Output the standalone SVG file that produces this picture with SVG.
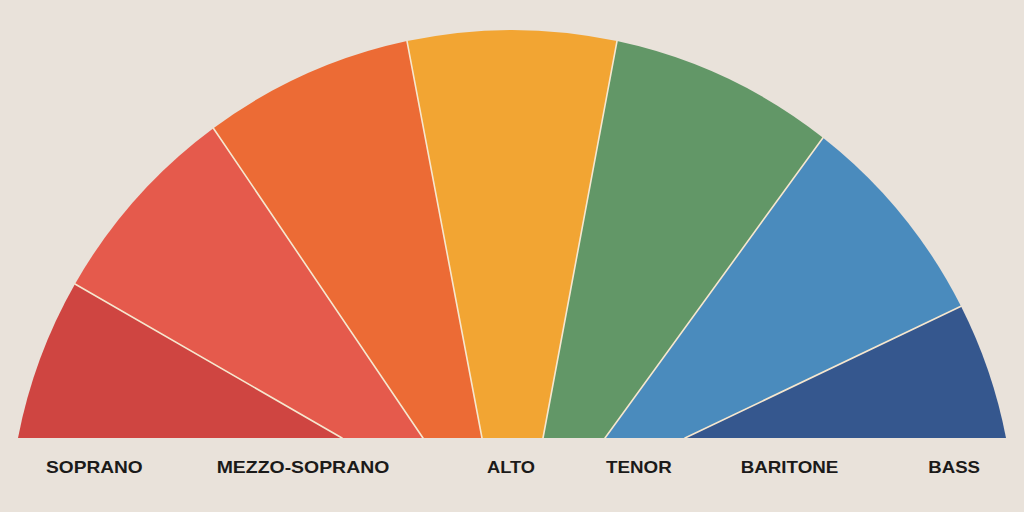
<svg xmlns="http://www.w3.org/2000/svg" width="1024" height="512" viewBox="0 0 1024 512">
  <style>
    .wedge { stroke: none; }
    .div { stroke: #f6e7cf; stroke-width: 1.6; fill: none; stroke-linecap: round; }
    .lbl { font-family: "Liberation Sans", Arial, sans-serif; font-weight: bold; font-size: 16.5px; fill: #1b1a19; }
  </style>
  <rect x="0" y="0" width="1024" height="512" fill="#e9e2da"/>
  <g id="soprano">
    <path class="wedge" fill="#cf4541" d="M18,438 A503,503 0 0 1 75,284 L342,438 Z"/>
    <text class="lbl" x="46" y="473" textLength="96.7" lengthAdjust="spacingAndGlyphs">SOPRANO</text>
  </g>
  <g id="mezzo-soprano">
    <path class="wedge" fill="#e55a4c" d="M342,438 L75,284 A503,503 0 0 1 213.4,128.2 L423,438 Z"/>
    <text class="lbl" x="216.7" y="473" textLength="172.6" lengthAdjust="spacingAndGlyphs">MEZZO-SOPRANO</text>
  </g>
  <g id="orange-band">
    <path class="wedge" fill="#ec6b35" d="M423,438 L213.4,128.2 A503,503 0 0 1 407,41.1 L482,438 Z"/>
  </g>
  <g id="alto">
    <path class="wedge" fill="#f2a533" d="M482,438 L407,41.1 A503,503 0 0 1 617,41.1 L543,438 Z"/>
    <text class="lbl" x="487" y="473" textLength="48" lengthAdjust="spacingAndGlyphs">ALTO</text>
  </g>
  <g id="tenor">
    <path class="wedge" fill="#629767" d="M543,438 L617,41.1 A503,503 0 0 1 823,137.7 L605,438 Z"/>
    <text class="lbl" x="606" y="473" textLength="65.7" lengthAdjust="spacingAndGlyphs">TENOR</text>
  </g>
  <g id="baritone">
    <path class="wedge" fill="#4a8bbd" d="M605,438 L823,137.7 A503,503 0 0 1 961,306.3 L685,438 Z"/>
    <text class="lbl" x="740.7" y="473" textLength="97.6" lengthAdjust="spacingAndGlyphs">BARITONE</text>
  </g>
  <g id="bass">
    <path class="wedge" fill="#35578e" d="M685,438 L961,306.3 A503,503 0 0 1 1006,438 Z"/>
    <text class="lbl" x="928.3" y="473" textLength="51.7" lengthAdjust="spacingAndGlyphs">BASS</text>
  </g>
  <g id="dividers">
    <line class="div" x1="75" y1="284" x2="342" y2="438"/>
    <line class="div" x1="213.4" y1="128.2" x2="423" y2="438"/>
    <line class="div" x1="407" y1="41.1" x2="482" y2="438"/>
    <line class="div" x1="617" y1="41.1" x2="543" y2="438"/>
    <line class="div" x1="823" y1="137.7" x2="605" y2="438"/>
    <line class="div" x1="961" y1="306.3" x2="685" y2="438"/>
  </g>
</svg>
